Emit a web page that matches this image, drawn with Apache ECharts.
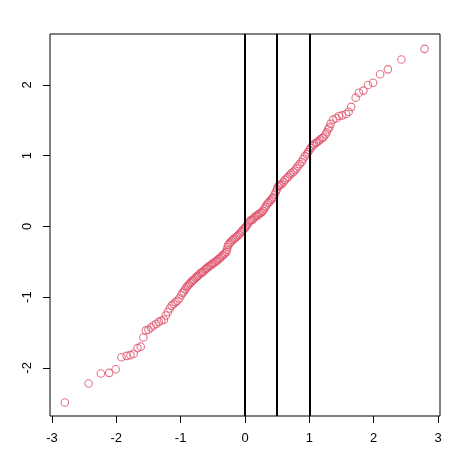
<!DOCTYPE html>
<html>
<head>
    <meta charset="utf-8">
    <title>QQ scatter</title>
    <script src="https://cdn.jsdelivr.net/npm/echarts@6.0.0/dist/echarts.min.js"></script>
    <style>
        html, body { margin: 0; padding: 0; background: #fff; }
        #main { width: 474px; height: 467px; }
    </style>
</head>
<body>
    <div id="main"></div>
    <script>
        // values
        const xTicks = [-3, -2, -1, 0, 1, 2, 3];
        const yTicks = [-2, -1, 0, 1, 2];
        const vLines = [0, 0.5, 1];

        const xs = [
            -2.80, -2.43, -2.24, -2.11, -2.01, -1.92, -1.84, -1.78, -1.73, -1.67,
            -1.62, -1.58, -1.54, -1.50, -1.46, -1.42, -1.38, -1.34, -1.30, -1.26,
            -1.23, -1.20, -1.17, -1.14, -1.11, -1.08, -1.05, -1.02,
            -0.99, -0.97, -0.95, -0.93, -0.91, -0.89, -0.87, -0.85, -0.83, -0.81,
            -0.79, -0.77, -0.75, -0.73, -0.71, -0.69, -0.67, -0.65, -0.63, -0.61,
            -0.59, -0.57, -0.55, -0.53, -0.51, -0.49, -0.47, -0.45, -0.43, -0.41,
            -0.39, -0.37, -0.35, -0.33, -0.31, -0.29, -0.28, -0.27, -0.26, -0.24,
            -0.22, -0.20, -0.18, -0.16, -0.14, -0.12, -0.10, -0.08, -0.06, -0.04,
            -0.02, 0.00, 0.02, 0.04, 0.06, 0.08, 0.10, 0.12, 0.14, 0.16,
            0.18, 0.20, 0.22, 0.24, 0.26, 0.28, 0.30, 0.32, 0.34, 0.36,
            0.38, 0.40, 0.42,
            0.44, 0.46, 0.48, 0.50, 0.51, 0.53, 0.55, 0.57, 0.60, 0.62,
            0.65, 0.67, 0.70, 0.72, 0.75, 0.77, 0.80, 0.82, 0.85, 0.88,
            0.90, 0.93, 0.96, 0.98, 1.00, 1.02, 1.05, 1.07, 1.10, 1.12,
            1.15, 1.17, 1.20, 1.22, 1.25, 1.27, 1.29, 1.31, 1.33, 1.37,
            1.42, 1.46, 1.51, 1.57, 1.61, 1.65, 1.72, 1.77, 1.84, 1.91,
            1.99, 2.10, 2.22, 2.43, 2.79
        ];
        const ys = [
            -2.49, -2.22, -2.08, -2.07, -2.02, -1.85, -1.83, -1.82, -1.80, -1.72,
            -1.70, -1.57, -1.47, -1.46, -1.43, -1.40, -1.38, -1.35, -1.33, -1.32,
            -1.26, -1.21, -1.16, -1.12, -1.10, -1.07, -1.05, -1.02,
            -0.97, -0.94, -0.92, -0.89, -0.86, -0.84, -0.82, -0.80, -0.78, -0.76,
            -0.75, -0.73, -0.71, -0.70, -0.68, -0.66, -0.65, -0.64, -0.62, -0.60,
            -0.59, -0.57, -0.56, -0.55, -0.53, -0.52, -0.51, -0.49, -0.48, -0.46,
            -0.45, -0.43, -0.41, -0.40, -0.38, -0.36, -0.33, -0.29, -0.26, -0.24,
            -0.22, -0.20, -0.18, -0.17, -0.15, -0.14, -0.12, -0.10, -0.08, -0.06,
            -0.04, -0.02, 0.00, 0.03, 0.06, 0.08, 0.09, 0.10, 0.12, 0.14,
            0.15, 0.16, 0.18, 0.19, 0.20, 0.22, 0.25, 0.28, 0.31, 0.33,
            0.35, 0.37, 0.39,
            0.41, 0.45, 0.49, 0.53, 0.56, 0.58, 0.59, 0.60, 0.63, 0.66,
            0.68, 0.70, 0.73, 0.75, 0.77, 0.79, 0.82, 0.85, 0.88, 0.91,
            0.95, 0.99, 1.02, 1.05, 1.08, 1.11, 1.14, 1.16, 1.18, 1.19,
            1.21, 1.23, 1.25, 1.26, 1.30, 1.33, 1.37, 1.40, 1.45, 1.51,
            1.53, 1.56, 1.57, 1.59, 1.62, 1.69, 1.82, 1.89, 1.92, 2.00,
            2.03, 2.15, 2.22, 2.36, 2.51
        ];

        const points = xs.map((x, i) => [x, ys[i]]);

        var chart = echarts.init(document.getElementById('main'));
        const axisFont = { color: '#000', fontSize: 13, fontFamily: 'Liberation Sans, Arial, sans-serif' };

        const option = {
            animation: false,
            backgroundColor: '#fff',
            grid: {
                left: 50, right: 34, top: 34, bottom: 51,
                show: true,
                borderColor: '#000',
                borderWidth: 1
            },
            xAxis: {
                type: 'value',
                min: -3.03, max: 3.03,
                splitLine: { show: false },
                axisLine: { show: false, onZero: false },
                axisTick: { show: true, length: 7, customValues: xTicks, lineStyle: { color: '#000' } },
                axisLabel: Object.assign({ margin: 16, customValues: xTicks }, axisFont)
            },
            yAxis: {
                type: 'value',
                min: -2.68, max: 2.72,
                splitLine: { show: false },
                axisLine: { show: false, onZero: false },
                axisTick: { show: true, length: 7, customValues: yTicks, lineStyle: { color: '#000' } },
                axisLabel: Object.assign({ margin: 16, rotate: 90, customValues: yTicks }, axisFont)
            },
            series: [{
                type: 'scatter',
                data: points,
                symbol: 'circle',
                symbolSize: 7.5,
                itemStyle: {
                    color: 'rgba(0,0,0,0)',
                    borderColor: '#DF536B',
                    borderWidth: 1.1
                },
                markLine: {
                    silent: true,
                    symbol: 'none',
                    label: { show: false },
                    lineStyle: { color: '#000', width: 2, type: 'solid' },
                    data: vLines.map(v => ({ xAxis: v }))
                }
            }]
        };

        chart.setOption(option);
    </script>
</body>
</html>
